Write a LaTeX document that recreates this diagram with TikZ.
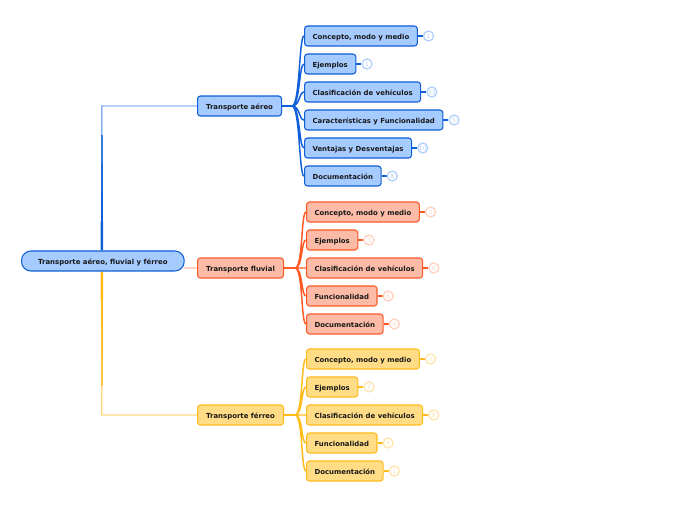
\documentclass[tikz,border=0pt]{standalone}
\usepackage{fontspec}
\setmainfont{DejaVu Sans}
\usetikzlibrary{positioning,calc}
\pgfdeclarelayer{background}
\pgfsetlayers{background,main}
\definecolor{bluefill}{HTML}{A6CBFF}
\definecolor{blueline}{HTML}{0F5FD8}
\definecolor{bluepale}{HTML}{B4D1FA}
\definecolor{redfill}{HTML}{FBBBA6}
\definecolor{redline}{HTML}{FF5A26}
\definecolor{redpale}{HTML}{FFD2C2}
\definecolor{yellowfill}{HTML}{FFDC85}
\definecolor{yellowline}{HTML}{FFBB1A}
\definecolor{yellowpale}{HTML}{FFE6B0}
\newcommand{\fork}[2]{(#1) .. controls +(8,0) and +(-5,0) .. (#2.west)}
% fading stem from #2 to #3, in colour #1
\newcommand{\stem}[3]{
  \foreach \a/\b/\w/\m in {0/.2/2.4/100,.2/.4/2/100,.4/.6/1.7/90,.6/.8/1.4/75,.8/1/1.1/50}
    \draw[#1line!\m!#1pale,line width=\w*.75pt] ($(#2)!\a!(#3)$) -- ($(#2)!\b!(#3)$);
}
\tikzset{
  topic/.style={draw=#1line,fill=#1fill,line width=.8pt,rounded corners=2.2pt,minimum height=15pt,
    inner xsep=6pt,inner ysep=0pt,text height=5pt,text depth=0pt,anchor=west,text=black!90,
    font=\bfseries\fontsize{5.2}{6}\selectfont},
  count/.style={circle,draw=#1pale,fill=white,line width=1pt,minimum size=7.5pt,inner sep=0pt,
    text=#1pale,font=\fontsize{4.5}{5}\selectfont},
  branch/.style={draw=#1line,line width=1.1pt},
  trunk/.style={draw=#1line,line width=1.8pt},
  pale/.style={draw=#1pale,line width=.8pt}
}
\begin{document}
\begin{tikzpicture}[x=.75pt,y=-.75pt,node distance=3.75pt]
   \useasboundingbox (0,0) rectangle (697,520);
   \node[topic=blue,rounded corners=7pt,minimum width=122pt,inner xsep=12pt] (root) at (21,261) {Transporte aéreo, fluvial y férreo};
   % first level
   \node[topic=blue,minimum width=63pt] (air) at (197,106) {Transporte aéreo};
   \node[topic=red,minimum width=64.5pt] (river) at (197,268) {Transporte fluvial};
   \node[topic=yellow,minimum width=64.5pt] (rail) at (197,415) {Transporte férreo};
   \coordinate (rootup) at ([xshift=-.7pt]root.north);
   \coordinate (rootdown) at ([xshift=-.7pt]root.south);
   \coordinate (airturn) at (rootup |- air);
   \coordinate (railturn) at (rootdown |- rail);
   \coordinate (rootside) at (184,268);
   \coordinate (airfork) at (292,106);
   \coordinate (riverfork) at (295,268);
   \coordinate (railfork) at (295,415);
   % blue
   \node[topic=blue] (air1) at (304,36) {Concepto, modo y medio};
   \node[topic=blue] (air2) at (304,64) {Ejemplos};
   \node[topic=blue] (air3) at (304,92) {Clasificación de vehículos};
   \node[topic=blue] (air4) at (304,120) {Características y Funcionalidad};
   \node[topic=blue] (air5) at (304,148) {Ventajas y Desventajas};
   \node[topic=blue] (air6) at (304,176) {Documentación};
   \node[count=blue,right=of air1] (airn1) {2};
   \node[count=blue,right=of air2] (airn2) {1};
   \node[count=blue,right=of air3] (airn3) {23};
   \node[count=blue,right=of air4] (airn4) {5};
   \node[count=blue,right=of air5] (airn5) {10};
   \node[count=blue,right=of air6] (airn6) {8};
   % orange
   \node[topic=red] (river1) at (306,212) {Concepto, modo y medio};
   \node[topic=red] (river2) at (306,240) {Ejemplos};
   \node[topic=red] (river3) at (306,268) {Clasificación de vehículos};
   \node[topic=red] (river4) at (306,296) {Funcionalidad};
   \node[topic=red] (river5) at (306,324) {Documentación};
   \node[count=red,right=of river1] (rivern1) {2};
   \node[count=red,right=of river2] (rivern2) {3};
   \node[count=red,right=of river3] (rivern3) {8};
   \node[count=red,right=of river4] (rivern4) {6};
   \node[count=red,right=of river5] (rivern5) {5};
   % yellow
   \node[topic=yellow] (rail1) at (306,359) {Concepto, modo y medio};
   \node[topic=yellow] (rail2) at (306,387) {Ejemplos};
   \node[topic=yellow] (rail3) at (306,415) {Clasificación de vehículos};
   \node[topic=yellow] (rail4) at (306,443) {Funcionalidad};
   \node[topic=yellow] (rail5) at (306,471) {Documentación};
   \node[count=yellow,right=of rail1] (railn1) {2};
   \node[count=yellow,right=of rail2] (railn2) {2};
   \node[count=yellow,right=of rail3] (railn3) {8};
   \node[count=yellow,right=of rail4] (railn4) {4};
   \node[count=yellow,right=of rail5] (railn5) {1};
   % connectors
   \begin{pgfonlayer}{background}
   \draw[pale=blue] (rootup) |- (air);
   \draw[pale=red] (rootside) -- (river);
   \draw[pale=yellow] (rootdown) |- (rail);
   \stem{blue}{rootup}{airturn}
   \stem{yellow}{rootdown}{railturn}
   \draw[trunk=blue] (air) -- (airfork);
   \draw[trunk=red] (river) -- (riverfork);
   \draw[trunk=yellow] (rail) -- (railfork);
   \draw[branch=blue] \fork{airfork}{air1} \fork{airfork}{air2} \fork{airfork}{air3}
    \fork{airfork}{air4} \fork{airfork}{air5} \fork{airfork}{air6};
   \draw[branch=red] \fork{riverfork}{river1} \fork{riverfork}{river2} \fork{riverfork}{river3}
    \fork{riverfork}{river4} \fork{riverfork}{river5};
   \draw[branch=yellow] \fork{railfork}{rail1} \fork{railfork}{rail2} \fork{railfork}{rail3}
    \fork{railfork}{rail4} \fork{railfork}{rail5};
   \path[branch=blue]
    (air1) edge (airn1) (air2) edge (airn2) (air3) edge (airn3)
    (air4) edge (airn4) (air5) edge (airn5) (air6) edge (airn6);
   \path[branch=red]
    (river1) edge (rivern1) (river2) edge (rivern2) (river3) edge (rivern3)
    (river4) edge (rivern4) (river5) edge (rivern5);
   \path[branch=yellow]
    (rail1) edge (railn1) (rail2) edge (railn2) (rail3) edge (railn3)
    (rail4) edge (railn4) (rail5) edge (railn5);
   \end{pgfonlayer}
\end{tikzpicture}
\end{document}
